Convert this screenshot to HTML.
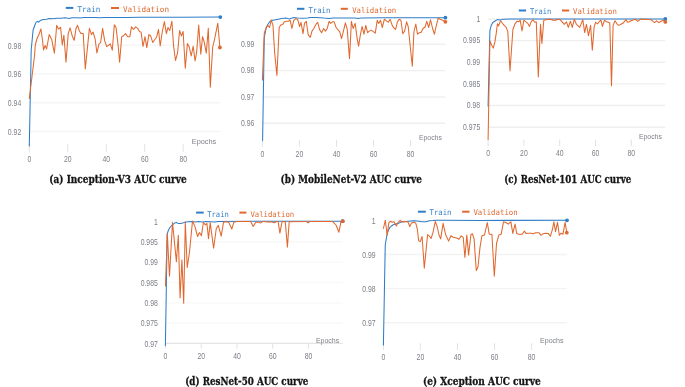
<!DOCTYPE html>
<html><head><meta charset="utf-8"><title>AUC curves</title>
<style>
html,body{margin:0;padding:0;background:#fff;}
svg{display:block;}
.tk{font-family:"Liberation Sans",sans-serif;font-size:8.80px;fill:#7d7f88;}
.ep{font-family:"Liberation Sans",sans-serif;font-size:8px;fill:#80828a;}
.lg{font-family:"DejaVu Sans Mono","Liberation Mono",monospace;font-size:7.8px;}
.tt{font-family:"DejaVu Serif","Liberation Serif",serif;font-weight:bold;font-size:10.60px;fill:#151515;stroke:#151515;stroke-width:0.3px;}
</style></head>
<body>
<svg width="685" height="387" viewBox="0 0 685 387">
<rect width="685" height="387" fill="#fff"/>
<g>
<line x1="29.3" y1="45.3" x2="220.3" y2="45.3" stroke="#f6f6f6" stroke-width="1.4"/>
<line x1="29.3" y1="74.0" x2="220.3" y2="74.0" stroke="#f6f6f6" stroke-width="1.4"/>
<line x1="29.3" y1="102.8" x2="220.3" y2="102.8" stroke="#f6f6f6" stroke-width="1.4"/>
<line x1="29.3" y1="131.5" x2="220.3" y2="131.5" stroke="#f6f6f6" stroke-width="1.4"/>
<line x1="29.3" y1="144.0" x2="29.3" y2="151.8" stroke="#e2e2e6" stroke-width="1"/>
<line x1="67.8" y1="144.0" x2="67.8" y2="151.8" stroke="#e2e2e6" stroke-width="1"/>
<line x1="106.3" y1="144.0" x2="106.3" y2="151.8" stroke="#e2e2e6" stroke-width="1"/>
<line x1="144.7" y1="144.0" x2="144.7" y2="151.8" stroke="#e2e2e6" stroke-width="1"/>
<line x1="183.2" y1="144.0" x2="183.2" y2="151.8" stroke="#e2e2e6" stroke-width="1"/>
<text class="tk" text-anchor="end" transform="translate(21.2,48.7) scale(0.780,1.000)">0.98</text>
<text class="tk" text-anchor="end" transform="translate(21.2,77.4) scale(0.780,1.000)">0.96</text>
<text class="tk" text-anchor="end" transform="translate(21.2,106.2) scale(0.780,1.000)">0.94</text>
<text class="tk" text-anchor="end" transform="translate(21.2,134.9) scale(0.780,1.000)">0.92</text>
<text class="tk" text-anchor="middle" transform="translate(29.3,161.9) scale(0.780,1.000)">0</text>
<text class="tk" text-anchor="middle" transform="translate(67.8,161.9) scale(0.780,1.000)">20</text>
<text class="tk" text-anchor="middle" transform="translate(106.3,161.9) scale(0.780,1.000)">40</text>
<text class="tk" text-anchor="middle" transform="translate(144.7,161.9) scale(0.780,1.000)">60</text>
<text class="tk" text-anchor="middle" transform="translate(183.2,161.9) scale(0.780,1.000)">80</text>
<text class="ep" x="191.8" y="144.2" textLength="24.5" lengthAdjust="spacingAndGlyphs">Epochs</text>
<line x1="65.8" y1="7.9" x2="73.3" y2="7.9" stroke="#2f7dc8" stroke-width="2"/>
<line x1="111.0" y1="8.0" x2="119.0" y2="8.0" stroke="#e0682f" stroke-width="2"/>
<text class="lg" x="77.5" y="11.9" fill="#2f7dc8" textLength="22.8" lengthAdjust="spacingAndGlyphs">Train</text>
<text class="lg" x="123.0" y="11.9" fill="#e0682f" textLength="46.0" lengthAdjust="spacingAndGlyphs">Validation</text>
<text class="tt" x="49.3" y="182.5" textLength="137.4" lengthAdjust="spacingAndGlyphs">(a) Inception-V3 AUC curve</text>
<polyline fill="none" stroke="#2f7dc8" stroke-width="1.05" stroke-linejoin="round" stroke-linecap="round" points="29.30,146.00 31.20,50.00 33.10,30.00 35.10,24.50 36.00,22.40 37.30,21.40 38.60,22.20 40.40,20.40 43.00,19.50 46.50,19.20 49.10,18.40 52.60,18.80 57.00,18.20 61.40,18.30 64.90,17.80 69.30,18.40 71.90,17.80 78.00,17.70 79.80,18.00 84.20,17.50 90.30,17.40 96.00,17.60 98.40,17.70 105.00,17.40 127.30,17.60 140.00,17.35 180.00,17.20 220.30,17.05"/>
<polyline fill="none" stroke="#e0682f" stroke-width="1.05" stroke-linejoin="round" stroke-linecap="round" points="29.30,98.50 34.50,56.00 35.30,45.00 37.00,38.50 38.90,34.60 40.90,29.00 42.50,40.00 43.50,50.00 45.10,45.50 46.60,49.00 49.20,34.60 51.80,39.80 54.40,53.20 56.70,25.30 58.50,29.00 60.60,27.40 62.30,45.00 63.90,35.20 66.00,62.20 68.20,33.60 70.10,27.90 72.30,36.20 74.20,40.30 76.00,28.40 77.50,25.30 79.40,31.00 81.10,33.60 83.20,33.40 85.30,68.90 89.40,28.40 91.50,34.60 93.00,32.00 95.10,38.80 96.90,53.00 99.00,43.90 100.60,42.60 102.60,28.40 104.70,40.80 106.70,46.50 108.30,45.50 110.30,43.90 112.30,50.20 114.30,24.80 116.00,27.40 118.10,45.00 119.60,62.20 121.70,36.70 123.60,35.70 125.60,33.60 127.70,36.70 129.80,36.70 131.50,26.90 133.60,29.50 135.70,26.90 137.70,28.40 139.70,31.80 141.10,32.10 143.00,46.50 145.00,36.70 146.80,47.60 148.90,34.60 150.60,35.70 152.70,42.40 154.70,39.80 156.60,37.20 158.50,29.50 160.20,46.00 162.30,31.50 164.40,21.70 166.40,33.60 168.00,27.40 169.80,30.50 171.90,21.20 173.50,45.00 175.50,60.50 177.60,52.70 179.60,30.50 181.40,35.90 183.10,31.50 185.30,68.20 187.40,43.40 189.40,47.50 191.20,56.00 193.20,46.20 195.10,61.00 196.70,51.70 198.70,25.00 200.80,54.20 202.50,36.60 204.20,41.80 206.30,53.10 208.30,28.30 210.30,87.30 212.70,47.00 214.70,38.70 217.80,23.20 219.90,47.50"/>
<circle cx="220.30" cy="17.05" r="1.9" fill="#2f7dc8"/>
<circle cx="219.90" cy="47.50" r="1.9" fill="#e0682f"/>
</g>
<g>
<line x1="262.4" y1="44.3" x2="445.4" y2="44.3" stroke="#efefef" stroke-width="1.4"/>
<line x1="262.4" y1="70.6" x2="445.4" y2="70.6" stroke="#efefef" stroke-width="1.4"/>
<line x1="262.4" y1="97.0" x2="445.4" y2="97.0" stroke="#efefef" stroke-width="1.4"/>
<line x1="262.4" y1="123.2" x2="445.4" y2="123.2" stroke="#efefef" stroke-width="1.4"/>
<line x1="262.4" y1="140.0" x2="262.4" y2="146.7" stroke="#e2e2e6" stroke-width="1"/>
<line x1="299.4" y1="140.0" x2="299.4" y2="146.7" stroke="#e2e2e6" stroke-width="1"/>
<line x1="336.5" y1="140.0" x2="336.5" y2="146.7" stroke="#e2e2e6" stroke-width="1"/>
<line x1="373.5" y1="140.0" x2="373.5" y2="146.7" stroke="#e2e2e6" stroke-width="1"/>
<line x1="410.6" y1="140.0" x2="410.6" y2="146.7" stroke="#e2e2e6" stroke-width="1"/>
<text class="tk" text-anchor="end" transform="translate(254.3,46.9) scale(0.780,1.000)">0.99</text>
<text class="tk" text-anchor="end" transform="translate(254.3,73.2) scale(0.780,1.000)">0.98</text>
<text class="tk" text-anchor="end" transform="translate(254.3,99.6) scale(0.780,1.000)">0.97</text>
<text class="tk" text-anchor="end" transform="translate(254.3,125.8) scale(0.780,1.000)">0.96</text>
<text class="tk" text-anchor="middle" transform="translate(262.4,157.0) scale(0.780,1.000)">0</text>
<text class="tk" text-anchor="middle" transform="translate(299.4,157.0) scale(0.780,1.000)">20</text>
<text class="tk" text-anchor="middle" transform="translate(336.5,157.0) scale(0.780,1.000)">40</text>
<text class="tk" text-anchor="middle" transform="translate(373.5,157.0) scale(0.780,1.000)">60</text>
<text class="tk" text-anchor="middle" transform="translate(410.6,157.0) scale(0.780,1.000)">80</text>
<text class="ep" x="418.9" y="139.9" textLength="23.0" lengthAdjust="spacingAndGlyphs">Epochs</text>
<line x1="297.0" y1="8.8" x2="304.4" y2="8.8" stroke="#2f7dc8" stroke-width="2"/>
<line x1="340.8" y1="8.8" x2="347.8" y2="8.8" stroke="#e0682f" stroke-width="2"/>
<text class="lg" x="308.4" y="13.1" fill="#2f7dc8" textLength="21.9" lengthAdjust="spacingAndGlyphs">Train</text>
<text class="lg" x="352.2" y="13.1" fill="#e0682f" textLength="44.1" lengthAdjust="spacingAndGlyphs">Validation</text>
<text class="tt" x="280.5" y="182.5" textLength="141.4" lengthAdjust="spacingAndGlyphs">(b) MobileNet-V2 AUC curve</text>
<polyline fill="none" stroke="#2f7dc8" stroke-width="1.05" stroke-linejoin="round" stroke-linecap="round" points="262.60,140.60 264.25,38.00 266.10,28.00 267.90,24.30 270.10,21.30 272.80,20.30 277.10,19.40 281.50,18.60 285.90,18.10 289.40,18.90 292.00,18.10 293.80,17.50 297.30,18.10 303.40,18.30 307.80,18.10 309.50,17.50 316.50,17.50 320.00,17.70 324.00,18.10 329.30,18.50 333.00,17.90 355.00,17.90 358.20,18.60 361.00,17.90 384.00,17.80 445.40,17.70"/>
<polyline fill="none" stroke="#e0682f" stroke-width="1.05" stroke-linejoin="round" stroke-linecap="round" points="262.40,80.10 264.30,33.00 266.30,27.50 267.80,25.40 269.60,27.50 271.20,19.80 273.00,25.40 274.60,52.00 276.90,75.50 279.20,27.50 280.70,24.90 282.80,24.40 284.40,21.80 286.40,21.30 288.50,21.30 290.20,20.30 291.90,28.50 293.70,20.30 295.70,18.70 297.60,19.20 299.60,26.50 301.00,22.30 303.00,33.70 304.50,23.40 306.30,21.30 308.20,34.70 310.30,37.30 312.00,31.10 313.80,28.50 316.20,23.90 317.70,22.30 319.60,29.60 321.60,32.70 323.70,28.50 325.50,31.10 327.20,28.50 329.10,21.30 330.60,23.40 332.40,21.80 334.20,21.80 336.10,27.50 337.90,29.60 339.70,31.60 341.50,38.70 343.30,31.60 345.40,22.90 347.20,29.10 349.50,58.60 351.40,21.30 353.10,28.50 355.20,23.40 357.00,37.80 358.60,46.20 360.40,34.70 362.10,26.50 364.00,34.20 365.80,25.40 367.60,32.70 369.30,31.10 371.20,30.10 373.30,31.60 375.30,33.20 377.20,20.30 378.70,23.40 380.50,20.30 382.30,27.50 384.40,19.20 386.50,20.80 388.30,22.30 390.10,19.20 392.20,25.40 393.90,28.00 395.60,29.40 397.30,22.30 399.10,19.20 400.90,20.30 402.80,33.70 404.60,31.10 406.60,21.80 408.20,26.50 410.30,47.00 412.30,66.30 413.90,32.00 415.80,24.00 417.50,34.20 419.40,32.70 421.20,32.20 423.00,28.50 425.10,27.00 426.80,21.30 428.70,27.50 430.50,19.80 432.60,28.50 434.40,34.20 436.10,26.50 438.20,18.20 440.20,19.20 442.60,20.30 445.40,21.80"/>
<circle cx="445.40" cy="17.70" r="1.9" fill="#2f7dc8"/>
<circle cx="445.40" cy="21.80" r="1.9" fill="#e0682f"/>
</g>
<g>
<line x1="488.1" y1="19.3" x2="665.3" y2="19.3" stroke="#efefef" stroke-width="1.4"/>
<line x1="488.1" y1="40.6" x2="665.3" y2="40.6" stroke="#efefef" stroke-width="1.4"/>
<line x1="488.1" y1="62.2" x2="665.3" y2="62.2" stroke="#efefef" stroke-width="1.4"/>
<line x1="488.1" y1="83.9" x2="665.3" y2="83.9" stroke="#efefef" stroke-width="1.4"/>
<line x1="488.1" y1="105.5" x2="665.3" y2="105.5" stroke="#efefef" stroke-width="1.4"/>
<line x1="488.1" y1="127.2" x2="665.3" y2="127.2" stroke="#efefef" stroke-width="1.4"/>
<line x1="488.1" y1="139.5" x2="488.1" y2="146.0" stroke="#e2e2e6" stroke-width="1"/>
<line x1="523.9" y1="139.5" x2="523.9" y2="146.0" stroke="#e2e2e6" stroke-width="1"/>
<line x1="559.7" y1="139.5" x2="559.7" y2="146.0" stroke="#e2e2e6" stroke-width="1"/>
<line x1="595.5" y1="139.5" x2="595.5" y2="146.0" stroke="#e2e2e6" stroke-width="1"/>
<line x1="631.3" y1="139.5" x2="631.3" y2="146.0" stroke="#e2e2e6" stroke-width="1"/>
<text class="tk" text-anchor="end" transform="translate(480.2,22.1) scale(0.780,0.930)">1</text>
<text class="tk" text-anchor="end" transform="translate(480.2,43.4) scale(0.780,0.930)">0.995</text>
<text class="tk" text-anchor="end" transform="translate(480.2,65.0) scale(0.780,0.930)">0.99</text>
<text class="tk" text-anchor="end" transform="translate(480.2,86.7) scale(0.780,0.930)">0.985</text>
<text class="tk" text-anchor="end" transform="translate(480.2,108.3) scale(0.780,0.930)">0.98</text>
<text class="tk" text-anchor="end" transform="translate(480.2,130.0) scale(0.780,0.930)">0.975</text>
<text class="tk" text-anchor="middle" transform="translate(488.1,156.2) scale(0.780,0.930)">0</text>
<text class="tk" text-anchor="middle" transform="translate(523.9,156.2) scale(0.780,0.930)">20</text>
<text class="tk" text-anchor="middle" transform="translate(559.7,156.2) scale(0.780,0.930)">40</text>
<text class="tk" text-anchor="middle" transform="translate(595.5,156.2) scale(0.780,0.930)">60</text>
<text class="tk" text-anchor="middle" transform="translate(631.3,156.2) scale(0.780,0.930)">80</text>
<text class="ep" x="638.9" y="139.4" textLength="23.0" lengthAdjust="spacingAndGlyphs">Epochs</text>
<line x1="518.8" y1="10.5" x2="526.1" y2="10.5" stroke="#2f7dc8" stroke-width="2"/>
<line x1="562.0" y1="10.5" x2="569.2" y2="10.5" stroke="#e0682f" stroke-width="2"/>
<text class="lg" x="530.1" y="14.0" fill="#2f7dc8" textLength="21.1" lengthAdjust="spacingAndGlyphs">Train</text>
<text class="lg" x="573.0" y="14.0" fill="#e0682f" textLength="43.8" lengthAdjust="spacingAndGlyphs">Validation</text>
<text class="tt" x="504.2" y="182.5" textLength="127.1" lengthAdjust="spacingAndGlyphs">(c) ResNet-101 AUC curve</text>
<polyline fill="none" stroke="#2f7dc8" stroke-width="1.05" stroke-linejoin="round" stroke-linecap="round" points="488.10,106.00 489.90,30.50 491.20,25.60 492.80,22.50 495.10,21.00 497.40,19.60 500.50,19.90 502.80,19.30 510.00,19.00 600.00,18.90 665.30,19.00"/>
<polyline fill="none" stroke="#e0682f" stroke-width="1.05" stroke-linejoin="round" stroke-linecap="round" points="488.10,139.50 489.90,41.00 491.80,45.50 493.30,48.10 494.90,41.90 496.20,33.60 497.40,23.80 498.70,25.90 500.50,20.70 502.40,23.30 504.20,25.40 506.20,27.40 507.80,31.60 510.00,71.00 512.90,29.50 515.00,23.80 517.10,21.20 518.60,21.80 520.20,20.20 522.00,31.00 523.90,20.20 526.00,21.80 527.80,23.30 529.50,26.40 530.90,22.30 532.90,19.70 534.70,22.30 536.30,21.80 538.30,76.90 540.50,24.30 541.90,43.50 543.80,20.20 546.90,19.40 550.00,19.20 553.10,20.20 555.70,20.20 557.70,19.20 560.10,19.70 562.10,21.80 564.20,24.30 566.50,21.80 568.30,27.40 570.40,21.20 572.30,27.40 574.30,19.20 576.40,24.30 578.20,25.90 579.70,27.40 582.80,19.70 584.70,32.60 586.40,24.30 588.50,35.70 590.60,25.40 592.30,50.20 594.20,26.40 595.70,22.30 597.60,23.80 599.60,21.20 601.00,20.20 602.40,26.40 604.50,20.20 606.30,21.80 608.40,22.30 609.80,23.00 611.50,85.70 613.10,25.40 615.10,20.70 617.20,24.30 618.70,25.40 620.80,24.30 622.90,23.30 626.00,19.70 627.50,22.30 629.10,21.80 631.10,20.70 633.60,19.80 635.20,19.30 637.80,21.40 640.30,19.30 642.40,19.10 645.50,19.50 648.60,19.50 651.20,19.80 654.60,22.60 656.70,20.90 658.70,22.60 661.00,21.20 663.10,20.30 665.30,21.90"/>
<circle cx="665.30" cy="19.00" r="1.9" fill="#2f7dc8"/>
<circle cx="665.30" cy="21.90" r="1.9" fill="#e0682f"/>
</g>
<g>
<line x1="165.4" y1="221.3" x2="342.6" y2="221.3" stroke="#f8f8f8" stroke-width="1.4"/>
<line x1="165.4" y1="241.7" x2="342.6" y2="241.7" stroke="#f8f8f8" stroke-width="1.4"/>
<line x1="165.4" y1="262.1" x2="342.6" y2="262.1" stroke="#f8f8f8" stroke-width="1.4"/>
<line x1="165.4" y1="282.6" x2="342.6" y2="282.6" stroke="#f8f8f8" stroke-width="1.4"/>
<line x1="165.4" y1="302.9" x2="342.6" y2="302.9" stroke="#f8f8f8" stroke-width="1.4"/>
<line x1="165.4" y1="323.2" x2="342.6" y2="323.2" stroke="#f8f8f8" stroke-width="1.4"/>
<line x1="165.4" y1="343.4" x2="342.6" y2="343.4" stroke="#e4e4e4" stroke-width="1.4"/>
<line x1="165.4" y1="343.3" x2="165.4" y2="348.7" stroke="#e2e2e6" stroke-width="1"/>
<line x1="201.2" y1="343.3" x2="201.2" y2="348.7" stroke="#e2e2e6" stroke-width="1"/>
<line x1="237.0" y1="343.3" x2="237.0" y2="348.7" stroke="#e2e2e6" stroke-width="1"/>
<line x1="272.7" y1="343.3" x2="272.7" y2="348.7" stroke="#e2e2e6" stroke-width="1"/>
<line x1="308.5" y1="343.3" x2="308.5" y2="348.7" stroke="#e2e2e6" stroke-width="1"/>
<text class="tk" text-anchor="end" transform="translate(157.8,224.5) scale(0.780,1.000)">1</text>
<text class="tk" text-anchor="end" transform="translate(157.8,244.9) scale(0.780,1.000)">0.995</text>
<text class="tk" text-anchor="end" transform="translate(157.8,265.3) scale(0.780,1.000)">0.99</text>
<text class="tk" text-anchor="end" transform="translate(157.8,285.8) scale(0.780,1.000)">0.985</text>
<text class="tk" text-anchor="end" transform="translate(157.8,306.1) scale(0.780,1.000)">0.98</text>
<text class="tk" text-anchor="end" transform="translate(157.8,326.4) scale(0.780,1.000)">0.975</text>
<text class="tk" text-anchor="end" transform="translate(157.8,346.6) scale(0.780,1.000)">0.97</text>
<text class="tk" text-anchor="middle" transform="translate(165.4,359.3) scale(0.780,1.000)">0</text>
<text class="tk" text-anchor="middle" transform="translate(201.2,359.3) scale(0.780,1.000)">20</text>
<text class="tk" text-anchor="middle" transform="translate(237.0,359.3) scale(0.780,1.000)">40</text>
<text class="tk" text-anchor="middle" transform="translate(272.7,359.3) scale(0.780,1.000)">60</text>
<text class="tk" text-anchor="middle" transform="translate(308.5,359.3) scale(0.780,1.000)">80</text>
<text class="ep" x="315.9" y="343.2" textLength="23.3" lengthAdjust="spacingAndGlyphs">Epochs</text>
<line x1="196.1" y1="212.6" x2="203.7" y2="212.6" stroke="#2f7dc8" stroke-width="2"/>
<line x1="239.4" y1="212.6" x2="246.4" y2="212.6" stroke="#e0682f" stroke-width="2"/>
<text class="lg" x="207.2" y="216.6" fill="#2f7dc8" textLength="21.7" lengthAdjust="spacingAndGlyphs">Train</text>
<text class="lg" x="250.4" y="216.6" fill="#e0682f" textLength="43.8" lengthAdjust="spacingAndGlyphs">Validation</text>
<text class="tt" x="185.2" y="385.2" textLength="123.1" lengthAdjust="spacingAndGlyphs">(d) ResNet-50 AUC curve</text>
<polyline fill="none" stroke="#2f7dc8" stroke-width="1.05" stroke-linejoin="round" stroke-linecap="round" points="165.40,345.40 167.20,234.00 168.50,230.00 170.30,227.00 172.40,224.80 174.60,223.10 176.80,222.60 178.10,223.40 180.80,223.40 183.40,222.80 186.00,222.00 191.30,221.40 195.60,221.90 198.30,221.40 202.70,221.90 206.00,221.40 214.90,222.00 218.00,221.40 342.70,221.20"/>
<polyline fill="none" stroke="#e0682f" stroke-width="1.05" stroke-linejoin="round" stroke-linecap="round" points="165.50,286.10 167.30,233.60 169.50,276.20 172.50,222.40 176.40,261.70 178.30,235.20 180.10,297.90 181.90,259.90 183.70,303.30 185.30,222.00 187.20,267.50 189.50,252.00 192.50,221.00 194.90,226.40 197.60,236.50 199.50,232.60 201.40,235.70 203.40,222.50 205.40,224.90 206.90,223.30 208.50,238.80 210.20,222.60 213.60,248.10 216.30,228.50 218.30,225.40 221.20,236.20 223.50,222.30 226.10,221.80 228.70,222.30 231.80,229.00 233.80,222.30 236.90,221.40 250.70,221.40 253.20,226.40 255.80,222.30 258.40,222.10 260.50,223.10 263.10,221.40 267.70,222.10 270.80,221.80 274.40,222.80 277.00,221.40 278.10,221.40 279.90,233.10 282.00,221.80 285.30,221.60 287.40,247.10 289.20,221.80 306.00,221.40 308.10,222.90 310.10,221.40 332.40,221.40 333.90,222.90 336.00,225.00 338.90,232.20 340.90,221.90 342.70,221.20"/>
<circle cx="342.70" cy="221.20" r="1.9" fill="#2f7dc8"/>
<circle cx="342.70" cy="221.20" r="1.9" fill="#e0682f"/>
</g>
<g>
<line x1="383.4" y1="220.5" x2="566.8" y2="220.5" stroke="#f3f3f3" stroke-width="1.4"/>
<line x1="383.4" y1="254.5" x2="566.8" y2="254.5" stroke="#f3f3f3" stroke-width="1.4"/>
<line x1="383.4" y1="288.6" x2="566.8" y2="288.6" stroke="#f3f3f3" stroke-width="1.4"/>
<line x1="383.4" y1="322.7" x2="566.8" y2="322.7" stroke="#f3f3f3" stroke-width="1.4"/>
<line x1="383.4" y1="343.3" x2="383.4" y2="350.0" stroke="#e2e2e6" stroke-width="1"/>
<line x1="420.4" y1="343.3" x2="420.4" y2="350.0" stroke="#e2e2e6" stroke-width="1"/>
<line x1="457.5" y1="343.3" x2="457.5" y2="350.0" stroke="#e2e2e6" stroke-width="1"/>
<line x1="494.5" y1="343.3" x2="494.5" y2="350.0" stroke="#e2e2e6" stroke-width="1"/>
<line x1="531.6" y1="343.3" x2="531.6" y2="350.0" stroke="#e2e2e6" stroke-width="1"/>
<text class="tk" text-anchor="end" transform="translate(375.6,223.7) scale(0.780,1.000)">1</text>
<text class="tk" text-anchor="end" transform="translate(375.6,257.7) scale(0.780,1.000)">0.99</text>
<text class="tk" text-anchor="end" transform="translate(375.6,291.8) scale(0.780,1.000)">0.98</text>
<text class="tk" text-anchor="end" transform="translate(375.6,325.9) scale(0.780,1.000)">0.97</text>
<text class="tk" text-anchor="middle" transform="translate(383.4,360.4) scale(0.780,1.000)">0</text>
<text class="tk" text-anchor="middle" transform="translate(420.4,360.4) scale(0.780,1.000)">20</text>
<text class="tk" text-anchor="middle" transform="translate(457.5,360.4) scale(0.780,1.000)">40</text>
<text class="tk" text-anchor="middle" transform="translate(494.5,360.4) scale(0.780,1.000)">60</text>
<text class="tk" text-anchor="middle" transform="translate(531.6,360.4) scale(0.780,1.000)">80</text>
<text class="ep" x="540.0" y="343.2" textLength="23.6" lengthAdjust="spacingAndGlyphs">Epochs</text>
<line x1="417.9" y1="211.7" x2="425.8" y2="211.7" stroke="#2f7dc8" stroke-width="2"/>
<line x1="462.2" y1="211.7" x2="469.5" y2="211.7" stroke="#e0682f" stroke-width="2"/>
<text class="lg" x="429.6" y="215.4" fill="#2f7dc8" textLength="21.9" lengthAdjust="spacingAndGlyphs">Train</text>
<text class="lg" x="473.4" y="215.4" fill="#e0682f" textLength="44.3" lengthAdjust="spacingAndGlyphs">Validation</text>
<text class="tt" x="422.9" y="384.7" textLength="117.8" lengthAdjust="spacingAndGlyphs">(e) Xception AUC curve</text>
<polyline fill="none" stroke="#2f7dc8" stroke-width="1.05" stroke-linejoin="round" stroke-linecap="round" points="383.40,345.00 385.25,245.00 387.10,234.00 388.40,230.20 390.10,227.10 392.80,225.00 395.40,224.10 398.00,223.60 400.60,222.30 403.30,221.70 406.80,221.40 410.30,221.00 414.60,220.80 419.00,221.20 421.70,221.70 426.00,221.70 429.50,220.80 433.00,220.60 436.50,220.30 444.00,220.30 480.00,220.40 567.00,220.30"/>
<polyline fill="none" stroke="#e0682f" stroke-width="1.05" stroke-linejoin="round" stroke-linecap="round" points="383.40,228.50 385.30,220.30 387.20,235.30 388.80,222.90 390.30,221.30 392.20,222.30 394.00,221.80 396.30,226.00 398.10,222.30 400.20,220.30 401.70,221.80 403.80,221.50 406.70,221.80 408.00,222.00 409.80,226.50 411.50,222.90 413.60,222.30 415.70,222.90 417.30,229.00 418.70,240.80 420.20,241.60 422.10,236.50 424.30,268.20 427.60,234.60 429.10,235.80 431.10,238.50 433.00,232.30 435.30,221.40 437.30,227.00 439.00,235.00 440.70,238.90 443.10,223.30 445.50,234.20 448.60,241.10 450.90,235.70 453.20,237.30 456.70,238.00 459.00,239.30 461.20,235.80 463.20,237.30 464.90,257.50 466.80,235.10 468.60,255.10 470.90,234.50 472.50,233.80 474.10,239.00 476.30,270.60 478.00,266.80 480.00,247.40 481.90,235.80 484.50,235.10 487.30,222.50 489.20,234.20 491.90,234.20 494.30,276.20 496.50,243.50 498.90,234.90 501.20,234.20 503.50,221.80 505.80,222.50 508.20,224.10 510.90,221.80 512.80,233.40 515.10,224.10 516.70,233.40 519.00,234.20 522.10,234.20 524.40,231.10 526.00,233.40 528.10,233.20 531.20,233.20 533.20,233.70 535.80,232.70 538.90,232.70 541.00,235.30 543.10,233.70 545.60,233.20 548.20,233.40 550.30,236.30 552.40,229.60 553.90,221.80 555.50,231.60 557.50,222.30 559.30,235.30 561.10,233.20 563.00,234.20 565.10,222.30 566.80,232.70"/>
<circle cx="567.00" cy="220.30" r="1.9" fill="#2f7dc8"/>
<circle cx="566.80" cy="232.70" r="1.9" fill="#e0682f"/>
</g>
</svg>
</body></html>
